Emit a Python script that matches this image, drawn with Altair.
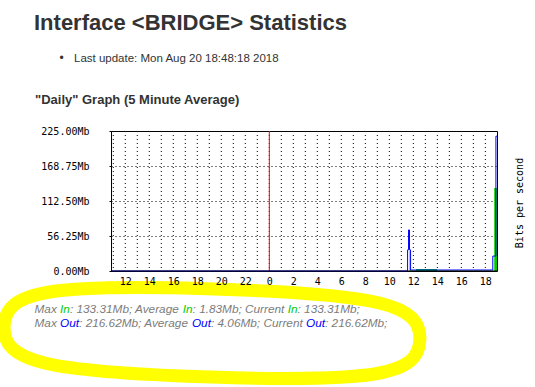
import altair as alt
import pandas as pd

# ---------------- data ----------------
in_hours = [-13.19, 11.60, 11.68, 11.77, 12.23, 13.98, 18.74, 18.97]
in_mb = [0.0, 0.0, 32.0, 0.5, 3.2, 0.3, 133.31, 133.31]
out_hours = [-13.19, 11.52, 11.60, 11.68, 11.77, 18.62, 18.74, 18.88, 18.97]
out_mb = [0.0, 34.0, 66.0, 34.0, 1.6, 24.0, 24.0, 216.62, 216.62]
y_ticks = [0, 56.25, 112.5, 168.75, 225]
hour_grid = list(range(-13, 19))
midnight = [0]
baseline_mb = [0]
x_domain = [-13.19, 18.97]

title_txt = "Interface <BRIDGE> Statistics"
update_txt = "Last update: Mon Aug 20 18:48:18 2018"
graph_txt = '"Daily" Graph (5 Minute Average)'
yaxis_txt = "Bits per second"

GRAY, GREEN, BLUE = "#7c7c7c", "#00cc00", "#0000ff"
stats_lines = [
    [("Max ", GRAY), ("In", GREEN), (": 133.31Mb; Average ", GRAY), ("In", GREEN),
     (": 1.83Mb; Current ", GRAY), ("In", GREEN), (": 133.31Mb;", GRAY)],
    [("Max ", GRAY), ("Out", BLUE), (": 216.62Mb; Average ", GRAY), ("Out", BLUE),
     (": 4.06Mb; Current ", GRAY), ("Out", BLUE), (": 216.62Mb;", GRAY)],
]

# ---------------- layout ----------------
OX, OY = 111, 131          # plot origin on the page
W, H = 386, 140
MONO = "DejaVu Sans Mono"
SANS = "Liberation Sans"

# Arial / Liberation Sans advance widths (1/1000 em) for text layout
ADV = {'M': 833, 'a': 556, 'x': 500, ' ': 278, 'I': 278, 'n': 556, ':': 278, '.': 278,
       'b': 556, ';': 278, 'A': 667, 'v': 500, 'e': 556, 'r': 333, 'g': 556, 'C': 722,
       'u': 556, 't': 278, 'O': 778}


def adv(s):
    return sum(ADV.get(c, 556) for c in s)


def xenc():
    return alt.X('t:Q', scale=alt.Scale(domain=x_domain, nice=False, zero=False),
                 axis=alt.Axis(values=hour_grid,
                               labelExpr="datum.value % 2 == 0 ? '' + ((datum.value + 24) % 24) : ''",
                               grid=False, ticks=False, domain=False, labelFont=MONO,
                               labelFontSize=10, labelColor='black', labelPadding=5,
                               labelOverlap=False, labelFlush=False, title=None, zindex=1))


def yenc():
    return alt.Y('v:Q', scale=alt.Scale(domain=[0, 225], nice=False, zero=True),
                 axis=alt.Axis(values=y_ticks, labelExpr="format(datum.value, '.2f') + 'Mb'",
                               grid=True, gridDash=[1, 3], gridColor='black', gridOpacity=1,
                               gridWidth=1, ticks=True, tickSize=2, tickColor='black',
                               domain=False, labelFont=MONO, labelFontSize=10,
                               labelColor='black', labelPadding=20, title=None))


df_in = pd.DataFrame({'t': in_hours, 'v': in_mb})
df_out = pd.DataFrame({'t': out_hours, 'v': out_mb})
df_grid = pd.DataFrame({'t': hour_grid})
df_mid = pd.DataFrame({'t': midnight})
df_base = pd.DataFrame({'v': baseline_mb})
one = pd.DataFrame({'k': [0]})

# hand-drawn yellow highlight ring (squarish ellipse)
R, K = 0.212, 0.80
ring = (f"M1,0C1,{K*R:.4f},{K},{R},0,{R}C{-K},{R},-1,{K*R:.4f},-1,0"
        f"C-1,{-K*R:.4f},{-K},{-R},0,{-R}C{K},{-R},1,{-K*R:.4f},1,0Z")
yellow = alt.Chart(one).mark_point(
    shape=ring, size=416 * 416, filled=False, stroke='#ffff00', strokeWidth=13,
    opacity=1, angle=1.8
).encode(x=alt.value(212 - OX), y=alt.value(333 - OY))

vgrid = alt.Chart(df_grid).mark_rule(color='black', strokeDash=[1, 3], strokeWidth=1).encode(x=xenc())
mid = alt.Chart(df_mid).mark_rule(color='#ff0000', strokeWidth=1).encode(x=xenc())

area_in = alt.Chart(df_in).mark_area(color=GREEN, interpolate='step-after', opacity=1).encode(
    x=xenc(), y=yenc())
line_out = alt.Chart(df_out).mark_line(color=BLUE, strokeWidth=1, interpolate='step-after').encode(
    x=xenc(), y=yenc())
base_rule = alt.Chart(df_base).mark_rule(color='black', strokeWidth=1).encode(y=yenc())


def text_layer(txt, x, y, size, color='#333333', font=SANS, weight='normal', style='normal',
               align='left', baseline='alphabetic', angle=0):
    return alt.Chart(one).mark_text(text=txt, font=font, fontSize=size, fontWeight=weight,
                                    fontStyle=style, color=color, align=align,
                                    baseline=baseline, angle=angle).encode(
        x=alt.value(x - OX), y=alt.value(y - OY))


texts = [
    text_layer(title_txt, 34, 29.5, 22, weight='bold'),
    text_layer("\u2022", 61.7, 62.3, 12, align='center'),
    text_layer(update_txt, 74, 62.3, 11.5),
    text_layer(graph_txt, 35, 104, 13, weight='bold'),
    text_layer(yaxis_txt, 520, 203, 10, color='black', font=MONO, align='center',
               baseline='middle', angle=270),
]

FS = 11.8
for i, segs in enumerate(stats_lines):
    base_y = 313.3 + i * 13.4
    cum = 0
    for s, c in segs:
        texts.append(text_layer(s, 34.5 + cum * FS / 1000.0, base_y, FS, color=c, style='italic'))
        cum += adv(s)

chart = alt.layer(yellow, vgrid, mid, area_in, line_out, base_rule, *texts).properties(
    width=W, height=H,
    autosize=alt.AutoSizeParams(type='none'),
    padding={'left': OX, 'top': OY, 'right': 535 - OX - W, 'bottom': 387 - OY - H},
    background='white',
).configure_view(stroke='black', strokeWidth=1)

chart.save("out.html", embed_options={"renderer": "svg", "actions": False})
